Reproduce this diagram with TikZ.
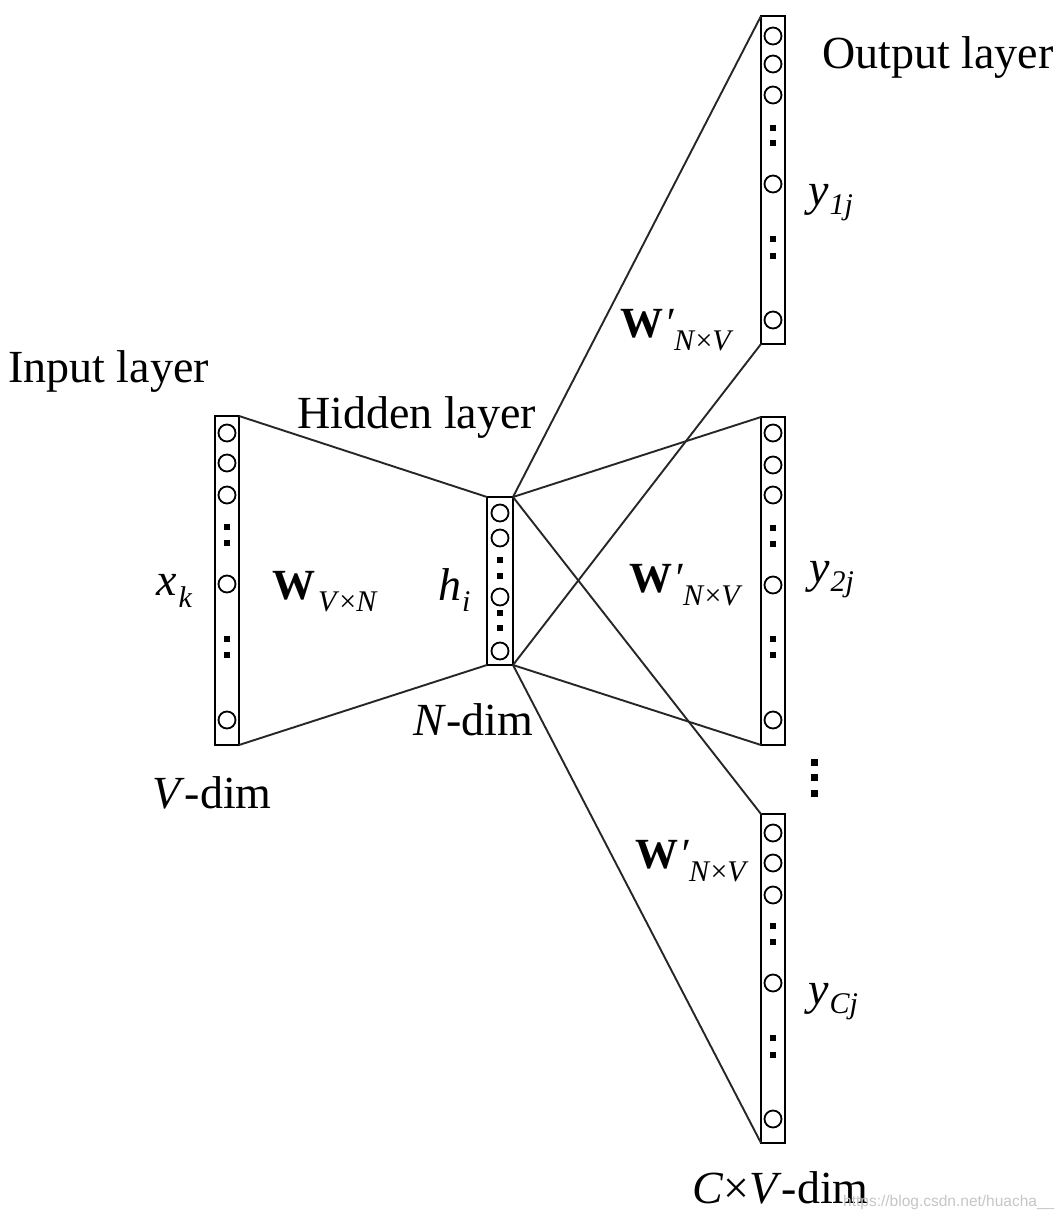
\documentclass[tikz,border=0pt]{standalone}
\usepackage{fontspec}
\setmainfont{Liberation Serif}
\newfontfamily\wmfont{Liberation Sans}
\newcommand\sbs[2]{\raisebox{-#1pt}{\fontsize{30}{30}\selectfont #2}}
\newcommand\unitcol[3]{%
  \foreach \yy in {#2} \draw[unitc] (#1,\yy) circle[radius=8.5pt];
  \foreach \yy in {#3} \fill (#1,\yy) ++(-3.2,-3.2) rectangle ++(6.4,6.4);
}
\tikzset{
  layerbox/.style={draw, line width=2pt, inner sep=0pt, outer sep=0pt, anchor=north west, minimum width=#1},
  conn/.style={line width=1.9pt, black!85},
  unitc/.style={line width=1.8pt},
  lbl/.style={anchor=base west, inner sep=0pt, font=\fontsize{46}{50}\selectfont},
  wlbl/.style={anchor=base west, inner sep=0pt, font=\fontsize{43}{50}\selectfont},
}
\begin{document}
\begin{tikzpicture}[x=1pt,y=-1pt]
\fill[white] (0,0) rectangle (1064,1220);
\useasboundingbox (0,0) rectangle (1064,1220);

% layer boxes
\node[layerbox=24pt, minimum height=329pt] (in) at (215,416) {};
\node[layerbox=26pt, minimum height=168pt] (hid) at (487,497) {};
\node[layerbox=24pt, minimum height=328pt] (o1) at (761,16) {};
\node[layerbox=24pt, minimum height=328pt] (o2) at (761,417) {};
\node[layerbox=24pt, minimum height=329pt] (o3) at (761,814) {};

% units
\unitcol{227}{433,463,495,584,720}{527,543,639,655}
\unitcol{500}{513,538,597,651}{560,576,613,628}
\unitcol{773}{36,64,95,184,320}{128,143,239,256}
\unitcol{773}{433,465,495,585,720}{528,544,639,655}
\unitcol{773}{833,863,895,983,1119}{926,942,1038,1055}

% vertical ellipsis between output blocks
\foreach \yy in {762,777,793} \fill (814,\yy) ++(-3.5,-3.5) rectangle ++(7,7);

% connectors
\draw[conn] (in.north east) -- (hid.north west);
\draw[conn] (in.south east) -- (hid.south west);
\draw[conn] (hid.north east) -- (o1.north west);
\draw[conn] (hid.south east) -- (o1.south west);
\draw[conn] (hid.north east) -- (o2.north west);
\draw[conn] (hid.south east) -- (o2.south west);
\draw[conn] (hid.north east) -- (o3.north west);
\draw[conn] (hid.south east) -- (o3.south west);

% labels
\node[lbl] (inlab) at (8,382) {Input layer};
\node[lbl] (hidlab) at (297,428) {Hidden layer};
\node[lbl] (outlab) at (822,69) {Output layer};
\node[lbl] (xk) at (156,595) {\textit{x}\kern2pt\sbs{12}{\textit{k}}};
\node[wlbl] (wvn) at (272,599) {\textbf{W}\kern3pt\sbs{12}{\textit{V}×\textit{N}}};
\node[lbl] (hi) at (438,600) {\textit{h}\kern1pt\sbs{11}{\textit{i}}};
\node[lbl] (ndim) at (413,735) {\textit{N}-dim};
\node[lbl] (vdim) at (152,808) {\textit{V}-dim};
\node[lbl] (cvdim) at (692,1203) {\textit{C}×\textit{V}-dim};

\node[lbl] (y1) at (808,205) {\textit{y}\kern1pt\sbs{9}{\textit{1j}}};
\node[lbl] (y2) at (809,582) {\textit{y}\kern1pt\sbs{9}{\textit{2j}}};
\node[lbl] (yc) at (808,1004) {\textit{y}\kern1pt\sbs{9}{\textit{Cj}}};

\node[wlbl] (w1) at (620,337) {\textbf{W}\kern1pt\textit{\symbol{"2032}}\sbs{13}{\textit{N}×\textit{V}}};
\node[wlbl] (w2) at (629,592) {\textbf{W}\kern1pt\textit{\symbol{"2032}}\sbs{13}{\textit{N}×\textit{V}}};
\node[wlbl] (w3) at (635,868) {\textbf{W}\kern1pt\textit{\symbol{"2032}}\sbs{13}{\textit{N}×\textit{V}}};

\node[anchor=base west, inner sep=0pt, font=\wmfont\fontsize{15.5}{16}\selectfont, text=gray!45] (wm) at (843,1206) {https://blog.csdn.net/huacha\_\_};
\end{tikzpicture}
\end{document}
